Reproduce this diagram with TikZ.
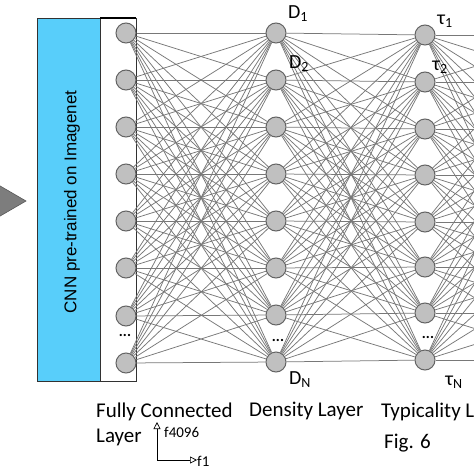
\documentclass[tikz,border=0pt]{standalone}
\usepackage{fontspec}
\setmainfont{Carlito}
\newfontfamily\arialfont{Liberation Sans}
\usetikzlibrary{arrows.meta}
\definecolor{cnnblue}{RGB}{88,206,250}
\definecolor{nodefill}{RGB}{192,192,192}
\definecolor{nodeborder}{RGB}{100,100,100}
\definecolor{edgegray}{RGB}{120,120,120}
\definecolor{arrowgray}{RGB}{125,125,125}
\definecolor{boxline}{RGB}{50,50,50}
\begin{document}
\begin{tikzpicture}[x=1pt,y=-1pt,
  neuron/.style={circle, draw=nodeborder, fill=nodefill, minimum size=20pt, inner sep=0pt, line width=1pt},
  conn/.style={draw=edgegray, line width=0.75pt},
  lbl/.style={font=\fontsize{21}{24}\selectfont, inner sep=0pt},
  sublbl/.style={font=\fontsize{20}{23}\selectfont, inner sep=0pt},
  dotslbl/.style={font=\bfseries\fontsize{15}{17}\selectfont, inner sep=0pt},
  axlbl/.style={font=\fontsize{15}{17}\selectfont, inner sep=0pt, anchor=west},
  axarrow/.style={-{Triangle[open,length=7pt,width=7pt]}, line width=0.7pt}]
\useasboundingbox (0,0) rectangle (474,474);
\clip (0,0) rectangle (474,474);
\fill[white] (0,0) rectangle (474,474);

% input arrow (cropped)
\draw[fill=arrowgray, draw=arrowgray!70!black, line width=0.6pt] (-5,183) -- (26,201) -- (-5,219) -- cycle;

% CNN box and fully connected box
\draw[fill=cnnblue, draw=boxline, line width=0.8pt] (37,18) rectangle (100,381);
\draw[fill=white, draw=boxline, line width=0.8pt] (100,18) rectangle (136,381);
\draw[black, line width=1.2pt] (100,18) -- (136,18);
\node[rotate=90, font=\arialfont\fontsize{17}{20}\selectfont, inner sep=0pt] (cnn) at (72,202) {CNN pre-trained on Imagenet};

% neurons
\foreach \i/\y in {1/33,2/80,3/127,4/174,5/221,6/268,7/316,8/363}
  \node[neuron] (a\i) at (126,\y) {};
\foreach \i/\y in {1/33,2/80,3/127,4/174,5/221,6/268,7/315,8/362}
  \node[neuron] (d\i) at (276,\y) {};
\foreach \i/\y in {1/35,2/82,3/129,4/175,5/222,6/267,7/313,8/360}
  \node[neuron] (t\i) at (425,\y) {};
\foreach \i/\y in {1/35,2/82,3/129,4/175,5/222,6/267,7/313,8/360}
  \coordinate (o\i) at (575,\y);

% connections
\foreach \i in {1,...,8}
  \foreach \j in {1,...,8} {
    \draw[conn] (a\i) -- (d\j);
    \draw[conn] (d\i) -- (t\j);
    \draw[conn] (t\i) -- (o\j);
  }

% dots
\node[dotslbl] (dotsa) at (125,335) {...};
\node[dotslbl] (dotsd) at (278,340) {...};
\node[dotslbl] (dotst) at (428,337) {...};

% neuron labels
\node[sublbl] (ld1) at (298,14) {D\textsubscript{1}};
\node[sublbl] (ld2) at (299,64) {D\textsubscript{2}};
\node[sublbl] (ldn) at (300,380) {D\textsubscript{N}};
\node[sublbl] (lt1) at (445,21) {τ\textsubscript{1}};
\node[sublbl] (lt2) at (440,67) {τ\textsubscript{2}};
\node[sublbl] (ltn) at (454,382) {τ\textsubscript{N}};

% layer captions
\node[lbl, anchor=west] (cap1) at (96,412) {Fully Connected};
\node[lbl, anchor=west] (cap1b) at (96,437) {Layer};
\node[lbl, anchor=west] (cap2) at (249,411) {Density Layer};
\node[lbl, anchor=west] (cap3) at (381,412) {Typicality Layer};
\node[lbl, anchor=west] (fig) at (384,443) {Fig. 6};

% feature axes
\coordinate (ax0) at (157,460);
\coordinate (axy) at (157,422);
\coordinate (axx) at (197,460);
\draw[axarrow] (ax0) -- (axy);
\draw[axarrow] (ax0) -- (axx);
\node[axlbl] (f4096) at (164,432) {f4096};
\node[axlbl] (f1) at (197,461) {f1};
\end{tikzpicture}
\end{document}
